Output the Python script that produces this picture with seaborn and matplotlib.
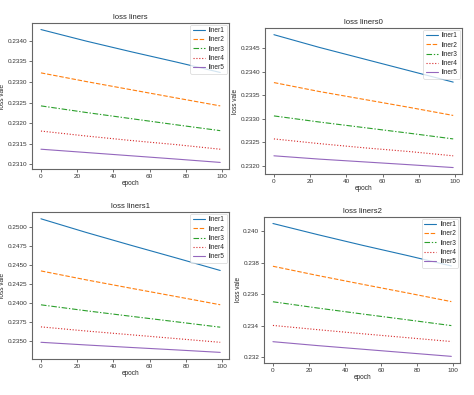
import matplotlib
matplotlib.use("Agg")
import matplotlib.pyplot as plt
import seaborn as sns
import pandas as pd

epochs = [0, 25, 50, 75, 99]
series_names = ["liner1", "liner2", "liner3", "liner4", "liner5"]
titles = ["loss liners", "loss liners0", "loss liners1", "loss liners2"]

p0_liner1 = [0.23427, 0.23399, 0.23373, 0.23348, 0.23323]
p0_liner2 = [0.23322, 0.23301, 0.23281, 0.23261, 0.23242]
p0_liner3 = [0.23242, 0.23226, 0.23211, 0.23196, 0.23182]
p0_liner4 = [0.23181, 0.23169, 0.23158, 0.23148, 0.23137]
p0_liner5 = [0.23137, 0.23129, 0.23121, 0.23113, 0.23105]

p1_liner1 = [0.23479, 0.23452, 0.23427, 0.23402, 0.23378]
p1_liner2 = [0.23377, 0.23358, 0.23341, 0.23324, 0.23307]
p1_liner3 = [0.23306, 0.23293, 0.23281, 0.23269, 0.23257]
p1_liner4 = [0.23257, 0.23247, 0.23238, 0.23230, 0.23221]
p1_liner5 = [0.23221, 0.23214, 0.23208, 0.23202, 0.23196]

p2_liner1 = [0.25105, 0.24926, 0.24756, 0.24590, 0.24428]
p2_liner2 = [0.24422, 0.24305, 0.24194, 0.24085, 0.23979]
p2_liner3 = [0.23978, 0.23900, 0.23827, 0.23755, 0.23685]
p2_liner4 = [0.23689, 0.23635, 0.23585, 0.23535, 0.23487]
p2_liner5 = [0.23487, 0.23452, 0.23419, 0.23387, 0.23355]

p3_liner1 = [0.24048, 0.23977, 0.23909, 0.23844, 0.23779]
p3_liner2 = [0.23777, 0.23718, 0.23662, 0.23607, 0.23553]
p3_liner3 = [0.23552, 0.23512, 0.23474, 0.23437, 0.23401]
p3_liner4 = [0.23402, 0.23375, 0.23349, 0.23324, 0.23300]
p3_liner5 = [0.23299, 0.23274, 0.23251, 0.23228, 0.23206]

panels = [
    [p0_liner1, p0_liner2, p0_liner3, p0_liner4, p0_liner5],
    [p1_liner1, p1_liner2, p1_liner3, p1_liner4, p1_liner5],
    [p2_liner1, p2_liner2, p2_liner3, p2_liner4, p2_liner5],
    [p3_liner1, p3_liner2, p3_liner3, p3_liner4, p3_liner5],
]

sns.set_style("white")
plt.rcParams["font.family"] = ["Liberation Sans", "DejaVu Sans"]

colors = ["#1f77b4", "#ff7f0e", "#2ca02c", "#d62728", "#9467bd"]
palette = dict(zip(series_names, colors))
dashes = {
    "liner1": "",
    "liner2": (4, 1.6),
    "liner3": (5, 1.6, 1.2, 1.6),
    "liner4": (1, 1.6),
    "liner5": "",
}

fig = plt.figure(figsize=(4.74, 3.95), dpi=100)
positions = [
    [0.0675, 0.572, 0.416, 0.370],
    [0.559, 0.559, 0.416, 0.370],
    [0.0675, 0.091, 0.416, 0.372],
    [0.557, 0.081, 0.414, 0.370],
]

for pos, title, vals in zip(positions, titles, panels):
    ax = fig.add_axes(pos)
    rows = []
    for name, ys in zip(series_names, vals):
        for x, y in zip(epochs, ys):
            rows.append({"epoch": x, "value": y, "series": name})
    df = pd.DataFrame(rows)
    sns.lineplot(data=df, x="epoch", y="value", hue="series", style="series",
                 palette=palette, dashes=dashes, linewidth=0.8, ax=ax)
    ax.set_title(title, fontsize=5.6, pad=3)
    ax.set_xlabel("epoch", fontsize=4.7, labelpad=1)
    ax.set_ylabel("loss vale", fontsize=4.7, labelpad=1)
    ax.set_xticks([0, 20, 40, 60, 80, 100])
    ax.tick_params(axis="both", labelsize=4.6, length=2, width=0.5, pad=1.5,
                   left=True, bottom=True, colors="#333333")
    for s in ax.spines.values():
        s.set_color("#666666")
        s.set_linewidth(0.8)
    leg = ax.legend(loc="upper right", fontsize=4.7, frameon=True,
                    handlelength=1.9, borderpad=0.35, labelspacing=0.35,
                    handletextpad=0.6, borderaxespad=0.3)
    leg.get_frame().set_linewidth(0.5)
    leg.get_frame().set_edgecolor("#cccccc")

fig.savefig("out.png", dpi=100)
